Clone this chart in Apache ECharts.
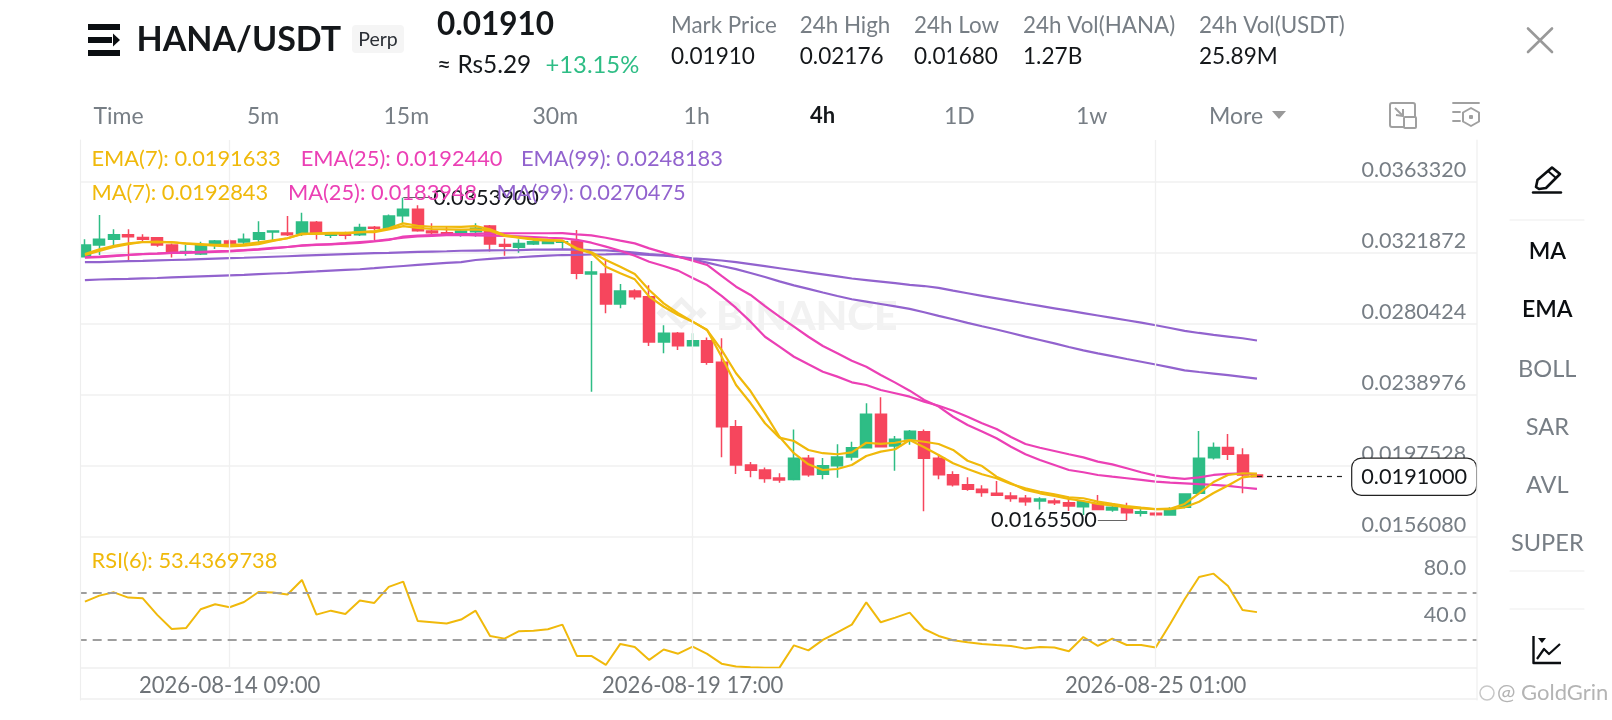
<!DOCTYPE html>
<html><head><meta charset="utf-8">
<style>html,body{margin:0;padding:0;background:#fff}#c{width:1612px;height:720px}</style>
<script src="https://cdn.jsdelivr.net/npm/echarts@6/dist/echarts.min.js"></script>
</head><body><div id="c"></div>
<script>
const opens=[
0.03194,0.03262,0.03296,0.03323,0.03307,0.03305,0.03262,0.03220,0.03210,0.03268,
0.03286,0.03280,0.03296,0.03338,0.03333,0.03331,0.03395,0.03319,0.03331,0.03323,
0.03366,0.03360,0.03434,0.03471,0.03344,0.03334,0.03331,0.03340,0.03373,0.03266,
0.03249,0.03268,0.03272,0.03278,0.03286,0.03093,0.03093,0.02918,0.02994,0.02961,
0.02696,0.02747,0.02675,0.02704,0.02578,0.02202,0.01978,0.01949,0.01902,0.01894,
0.02017,0.01924,0.01974,0.02025,0.02079,0.02274,0.02089,0.02130,0.02173,0.02017,
0.01922,0.01863,0.01836,0.01813,0.01797,0.01784,0.01768,0.01768,0.01758,0.01735,
0.01754,0.01716,0.01731,0.01696,0.01696,0.01686,0.01731,0.01813,0.02021,0.02081,
0.02037,0.01920];
const closes=[
0.03262,0.03296,0.03323,0.03311,0.03296,0.03262,0.03224,0.03224,0.03262,0.03286,
0.03272,0.03296,0.03334,0.03344,0.03323,0.03397,0.03331,0.03331,0.03319,0.03364,
0.03360,0.03432,0.03471,0.03346,0.03334,0.03327,0.03344,0.03360,0.03268,0.03255,
0.03272,0.03282,0.03282,0.03282,0.03097,0.03105,0.02918,0.02994,0.02961,0.02696,
0.02747,0.02675,0.02704,0.02578,0.02202,0.01978,0.01947,0.01900,0.01891,0.02017,
0.01922,0.01974,0.02025,0.02079,0.02274,0.02085,0.02128,0.02175,0.02017,0.01922,
0.01863,0.01836,0.01817,0.01801,0.01782,0.01764,0.01780,0.01758,0.01739,0.01764,
0.01718,0.01731,0.01700,0.01706,0.01688,0.01717,0.01809,0.02017,0.02081,0.02041,
0.01920,0.01910];
const lows=[
0.03194,0.03204,0.03262,0.03175,0.03276,0.03253,0.03189,0.03200,0.03204,0.03239,
0.03257,0.03257,0.03272,0.03282,0.03315,0.03315,0.03294,0.03303,0.03296,0.03315,
0.03292,0.03358,0.03389,0.03340,0.03321,0.03315,0.03311,0.03311,0.03224,0.03200,
0.03218,0.03263,0.03268,0.03237,0.03062,0.02406,0.02864,0.02893,0.02945,0.02673,
0.02630,0.02650,0.02675,0.02564,0.02023,0.01926,0.01906,0.01875,0.01875,0.01887,
0.01910,0.01895,0.01904,0.02004,0.02076,0.02081,0.01945,0.02097,0.01708,0.01895,
0.01852,0.01828,0.01793,0.01797,0.01764,0.01741,0.01719,0.01745,0.01710,0.01686,
0.01714,0.01706,0.01655,0.01677,0.01677,0.01684,0.01725,0.01809,0.02011,0.02007,
0.01813,0.01910];
const highs=[
0.03296,0.03438,0.03354,0.03354,0.03325,0.03305,0.03272,0.03262,0.03282,0.03292,
0.03296,0.03329,0.03401,0.03344,0.03432,0.03451,0.03403,0.03331,0.03340,0.03387,
0.03373,0.03440,0.03539,0.03494,0.03389,0.03370,0.03354,0.03389,0.03379,0.03301,
0.03296,0.03301,0.03296,0.03288,0.03350,0.03169,0.03169,0.03035,0.03004,0.03027,
0.02794,0.02755,0.02747,0.02722,0.02718,0.02241,0.01996,0.01963,0.01930,0.02186,
0.02037,0.02019,0.02099,0.02114,0.02338,0.02373,0.02147,0.02183,0.02186,0.02042,
0.01941,0.01906,0.01860,0.01885,0.01819,0.01803,0.01790,0.01782,0.01784,0.01774,
0.01803,0.01745,0.01758,0.01725,0.01706,0.01731,0.01813,0.02176,0.02109,0.02159,
0.02076,0.01920];
const ema7=[
0.03210,0.03237,0.03258,0.03272,0.03280,0.03282,0.03278,0.03272,0.03268,0.03264,
0.03263,0.03267,0.03278,0.03290,0.03302,0.03325,0.03331,0.03333,0.03334,0.03338,
0.03344,0.03360,0.03389,0.03375,0.03369,0.03369,0.03368,0.03373,0.03354,0.03321,
0.03307,0.03299,0.03293,0.03288,0.03239,0.03214,0.03136,0.03097,0.03062,0.02961,
0.02902,0.02854,0.02815,0.02766,0.02610,0.02445,0.02340,0.02222,0.02138,0.02118,
0.02066,0.02047,0.02041,0.02052,0.02108,0.02101,0.02108,0.02124,0.02114,0.02101,
0.02066,0.02003,0.01972,0.01910,0.01871,0.01832,0.01813,0.01797,0.01780,0.01768,
0.01751,0.01743,0.01731,0.01725,0.01720,0.01720,0.01731,0.01764,0.01815,0.01859,
0.01906,0.01916];
const ma7=[
0.03204,0.03228,0.03251,0.03268,0.03280,0.03278,0.03280,0.03270,0.03264,0.03258,
0.03255,0.03258,0.03268,0.03286,0.03302,0.03329,0.03327,0.03329,0.03329,0.03337,
0.03338,0.03354,0.03373,0.03362,0.03356,0.03354,0.03352,0.03354,0.03346,0.03315,
0.03305,0.03293,0.03288,0.03288,0.03243,0.03220,0.03175,0.03136,0.03093,0.03000,
0.02922,0.02864,0.02815,0.02766,0.02650,0.02514,0.02410,0.02280,0.02143,0.02047,
0.01982,0.01949,0.01955,0.01978,0.02031,0.02056,0.02070,0.02124,0.02082,0.02037,
0.01988,0.01955,0.01924,0.01901,0.01867,0.01842,0.01822,0.01807,0.01790,0.01784,
0.01764,0.01751,0.01739,0.01729,0.01721,0.01723,0.01751,0.01813,0.01879,0.01920,
0.01930,0.01928];
const ema25=[
0.03191,0.03195,0.03201,0.03205,0.03210,0.03213,0.03217,0.03220,0.03223,0.03226,
0.03229,0.03233,0.03239,0.03246,0.03251,0.03258,0.03263,0.03268,0.03273,0.03280,
0.03286,0.03295,0.03305,0.03312,0.03316,0.03320,0.03322,0.03319,0.03317,0.03315,
0.03313,0.03309,0.03305,0.03302,0.03292,0.03276,0.03253,0.03229,0.03200,0.03165,
0.03140,0.03113,0.03070,0.03029,0.02965,0.02895,0.02815,0.02727,0.02669,0.02610,
0.02566,0.02523,0.02494,0.02461,0.02445,0.02416,0.02397,0.02377,0.02348,0.02324,
0.02295,0.02260,0.02222,0.02188,0.02142,0.02101,0.02079,0.02060,0.02041,0.02023,
0.01998,0.01982,0.01959,0.01936,0.01916,0.01904,0.01897,0.01906,0.01920,0.01926,
0.01930,0.01924];
const ma25=[
0.03188,0.03192,0.03198,0.03204,0.03209,0.03212,0.03216,0.03217,0.03219,0.03222,
0.03225,0.03231,0.03236,0.03242,0.03251,0.03260,0.03265,0.03266,0.03271,0.03275,
0.03283,0.03292,0.03312,0.03318,0.03321,0.03324,0.03326,0.03327,0.03330,0.03330,
0.03331,0.03331,0.03331,0.03332,0.03325,0.03319,0.03305,0.03288,0.03272,0.03243,
0.03218,0.03194,0.03171,0.03146,0.03082,0.03019,0.02971,0.02906,0.02844,0.02786,
0.02727,0.02673,0.02630,0.02587,0.02552,0.02504,0.02459,0.02412,0.02358,0.02319,
0.02260,0.02212,0.02174,0.02134,0.02085,0.02041,0.02007,0.01978,0.01949,0.01936,
0.01920,0.01910,0.01901,0.01891,0.01881,0.01875,0.01871,0.01866,0.01862,0.01856,
0.01847,0.01839];
const ema99=[
0.03162,0.03163,0.03166,0.03168,0.03170,0.03173,0.03175,0.03177,0.03180,0.03183,
0.03186,0.03188,0.03191,0.03194,0.03197,0.03200,0.03203,0.03206,0.03209,0.03212,
0.03215,0.03217,0.03220,0.03222,0.03224,0.03226,0.03229,0.03230,0.03231,0.03232,
0.03233,0.03235,0.03236,0.03237,0.03236,0.03233,0.03231,0.03225,0.03218,0.03210,
0.03204,0.03193,0.03179,0.03160,0.03140,0.03122,0.03099,0.03076,0.03050,0.03027,
0.03006,0.02985,0.02965,0.02946,0.02932,0.02918,0.02904,0.02890,0.02870,0.02849,
0.02829,0.02808,0.02788,0.02769,0.02749,0.02728,0.02708,0.02688,0.02667,0.02647,
0.02630,0.02614,0.02597,0.02581,0.02565,0.02548,0.02531,0.02521,0.02512,0.02503,
0.02493,0.02482];
const ma99=[
0.03058,0.03061,0.03063,0.03065,0.03068,0.03070,0.03073,0.03076,0.03079,0.03082,
0.03085,0.03088,0.03092,0.03096,0.03099,0.03104,0.03108,0.03113,0.03117,0.03121,
0.03127,0.03134,0.03140,0.03146,0.03152,0.03158,0.03163,0.03175,0.03181,0.03187,
0.03191,0.03196,0.03200,0.03204,0.03205,0.03207,0.03208,0.03210,0.03209,0.03205,
0.03201,0.03194,0.03185,0.03179,0.03172,0.03163,0.03151,0.03139,0.03127,0.03115,
0.03103,0.03091,0.03079,0.03067,0.03058,0.03049,0.03040,0.03030,0.03023,0.03012,
0.02996,0.02981,0.02966,0.02951,0.02936,0.02921,0.02907,0.02893,0.02879,0.02865,
0.02851,0.02837,0.02823,0.02809,0.02794,0.02778,0.02761,0.02749,0.02738,0.02728,
0.02718,0.02705];
const rsi6=[
62.4,67.5,70.3,65.8,65.2,51.1,39.1,40.0,55.9,60.1,
57.6,62.1,70.6,70.1,68.4,80.8,51.3,54.7,51.9,63.3,
61.3,74.9,79.4,45.9,44.8,43.7,47.1,54.7,33.2,30.9,
37.2,37.7,38.9,42.8,16.2,16.2,8.5,26.4,23.8,12.8,
21.6,18.1,24.1,17.9,9.6,7.1,6.5,6.2,6.2,25.2,
20.9,29.8,36.3,42.8,61.8,44.8,48.8,53.0,39.1,33.2,
29.5,27.8,26.4,25.5,24.7,22.4,23.8,23.3,20.1,32.3,
24.7,30.9,25.5,25.5,23.3,43.4,64.4,83.4,86.2,75.7,
55.3,53.44];
const rsiTicks=[40,80];
const rsiLevels=[70,30];
const dateTickIndex=[10,42,74];
const START=Date.UTC(2026,7,12,17,0);
const categories=[];
for(let i=0;i<97;i++){const d=new Date(START+i*4*3600e3);const p=n=>String(n).padStart(2,'0');
  categories.push(d.getUTCFullYear()+'-'+p(d.getUTCMonth()+1)+'-'+p(d.getUTCDate())+' '+p(d.getUTCHours())+':'+p(d.getUTCMinutes()));}
const lastPrice=closes[closes.length-1];

const FONT='Lato, "Noto Sans", sans-serif';
const GREEN='#2EBD85',RED='#F6465D',GOLD='#F0B90B',PINK='#EB40B5',PURPLE='#9263CE',GRAY='#777E85',GRID='#F0F0F0';
const W=14.47, GL=84.9-W/2, GW=W*97;
const el=[];
function T(text,x,y,size,fill,weight,align,z){el.push({type:'text',z:z||60,silent:true,style:{text:text,x:x,y:y,fill:fill,align:align||'left',verticalAlign:'middle',font:(weight||400)+' '+size+'px '+FONT}});}
function L(x1,y1,x2,y2,c,w,z){el.push({type:'line',z:z||60,silent:true,shape:{x1,y1,x2,y2},style:{stroke:c,lineWidth:w||1,lineCap:'round'}});}
function R(x,y,w,h,c,r,z,stroke,sw){el.push({type:'rect',z:z||60,silent:true,shape:{x,y,width:w,height:h,r:r||0},style:{fill:c,stroke:stroke||null,lineWidth:sw||0}});}
function P(points,c,w,close,fill){el.push({type:close?'polygon':'polyline',z:60,silent:true,shape:{points},style:{stroke:c,lineWidth:w,fill:fill||(close?null:'none'),lineJoin:'round'}});}

// overlays that trim the plot to its frame
R(0,130,80.5,575,'#fff',0,50);
R(1477,130,135,575,'#fff',0,50);
L(80.5,140,80.5,700,'#EEEEEE',1.2);L(1477,140,1477,700,'#EEEEEE',1.2);L(80.5,699,1477,699,'#F0F0F0',1.5);

// header
R(88,24,32,6,'#0B0E11');R(88,50,32,6,'#0B0E11');R(88,37,24,6,'#0B0E11');P([[113,33.5],[120,40],[113,46.5]],null,0,true,'#0B0E11');
T('HANA/USDT',136.5,40,34,'#14171A',700);
R(352,25,52,28,'#F5F5F5',4);T('Perp',378,39.5,19.5,'#2B2F36',400,'center');
T('0.01910',437,25,31.5,'#14171A',700);
T('≈ Rs5.29',437,65,24.4,'#14171A');T('+13.15%',545.5,65,23.8,GREEN);
[['Mark Price','0.01910',671],['24h High','0.02176',799.7],['24h Low','0.01680',914],['24h Vol(HANA)','1.27B',1023],['24h Vol(USDT)','25.89M',1199]].forEach(a=>{T(a[0],a[2],25.5,22.4,GRAY);T(a[1],a[2],57,22.6,'#14171A');});
L(1528,28.5,1552,52,'#999',2.6);L(1552,28.5,1528,52,'#999',2.6);
// tabs
[['Time',93.5],['5m',247],['15m',383.5],['30m',532.5],['1h',683.6],['1D',944],['1w',1076],['More',1209]].forEach(a=>T(a[0],a[1],116.5,23,GRAY));
T('4h',810,116,22,'#14171A',700);
P([[1272,111],[1286,111],[1279,119]],null,0,true,'#999');
// toolbar icons
el.push({type:'rect',z:60,silent:true,shape:{x:1390,y:103,width:25,height:24,r:2},style:{fill:'none',stroke:'#A0A0A0',lineWidth:2}});
R(1404,117,12,11,'#fff',1,60,'#A0A0A0',2);
P([[1395,108],[1403,116]],'#A0A0A0',2);P([[1396,115],[1403,116],[1403,109]],'#A0A0A0',2);
L(1453,103,1479,103,'#A0A0A0',1.8);L(1453,112,1460,112,'#A0A0A0',1.8);L(1453,121,1460,121,'#A0A0A0',1.8);
P([[1471,108],[1479,112.5],[1479,121.5],[1471,126],[1463,121.5],[1463,112.5]],'#A0A0A0',2,true);
R(1469,115,4,4,'#A0A0A0',1);
// side panel
P([[1536,187],[1537.5,180],[1552,167.5],[1560,174],[1546,188],[1539,189]],'#0B0E11',2.6,true);L(1548,171,1556,178,'#0B0E11',2);L(1533,192.5,1561,192.5,'#0B0E11',2.4);
L(1510,220,1584,220,'#EEEEEE',1.2);L(1510,571,1584,571,'#EEEEEE',1.2);L(1510,609,1584,609,'#EEEEEE',1.2);
T('MA',1547.3,251.5,23,'#0B0E11',600,'center');T('EMA',1547.3,310,23,'#0B0E11',600,'center');
[['BOLL',369],['SAR',427.3],['AVL',485.7],['SUPER',543.3]].forEach(a=>T(a[0],1547.3,a[1],23.6,GRAY,400,'center'));
P([[1533.5,636],[1533.5,663],[1561,663]],'#0B0E11',2.4);P([[1537,659],[1544,649],[1549,654],[1560,644]],'#0B0E11',2.2);P([[1538,638],[1546,638],[1542,643]],null,0,true,'#0B0E11');
// readouts
T('EMA(7): 0.0191633',91.5,159,21.8,GOLD);T('EMA(25): 0.0192440',300.7,159,21.8,PINK);T('EMA(99): 0.0248183',521,159,21.8,PURPLE);
T('MA(7): 0.0192843',91.5,192.5,21.8,GOLD);T('MA(25): 0.0183948',288,192.5,21.8,PINK);T('MA(99): 0.0270475',496.5,192.5,21.8,PURPLE);
T('RSI(6): 53.4369738',91.5,560.5,21.8,GOLD);
// watermarks
T('BINANCE',716,317,40.8,'#F2F2F2',900,'left',1);
el.push({type:'rect',z:1,silent:true,x:681.5,y:313,rotation:Math.PI/4,shape:{x:-9,y:-9,width:18,height:18},style:{fill:'#fff',stroke:'#F0F0F0',lineWidth:5}});
el.push({type:'rect',z:1,silent:true,x:662,y:313,rotation:Math.PI/4,shape:{x:-4,y:-4,width:8,height:8},style:{fill:'#F0F0F0'}});
el.push({type:'rect',z:1,silent:true,x:701,y:313,rotation:Math.PI/4,shape:{x:-4,y:-4,width:8,height:8},style:{fill:'#F0F0F0'}});
el.push({type:'circle',z:60,silent:true,shape:{cx:1487,cy:693,r:7},style:{fill:'none',stroke:'#C8C8C8',lineWidth:1.5}});
T('@ GoldGrin',1497,693,22,'#B4B4B4');

function line(name,data,color){return {name,type:'line',data,xAxisIndex:0,yAxisIndex:0,symbol:'none',z:3,silent:true,animation:false,lineStyle:{color,width:2.2},itemStyle:{color}};}

const hiIdx=highs.indexOf(Math.max(...highs)), loIdx=lows.indexOf(Math.min(...lows));
const hi=highs[hiIdx], lo=lows[loIdx];
const lastIdx=closes.length-1;
const extLabel={color:'#14171A',fontSize:21.7,fontFamily:FONT};
const option={
  animation:false,backgroundColor:'#fff',
  grid:[{left:GL,width:GW,top:140,height:396.5},{left:GL,width:GW,top:536.5,height:130.8}],
  xAxis:[
    {type:'category',gridIndex:0,data:categories,axisLine:{show:false},axisTick:{show:false},axisLabel:{show:false},splitLine:{show:false}},
    {type:'category',gridIndex:1,data:categories,axisLine:{show:true,lineStyle:{color:GRID,width:1.5}},axisTick:{show:false},splitLine:{show:false},
      axisLabel:{interval:(i)=>dateTickIndex.includes(i),color:'#6E7378',fontSize:22.1,fontFamily:FONT,margin:8,hideOverlap:false}}
  ],
  yAxis:[
    {type:'value',gridIndex:0,position:'right',min:0.015608,max:0.038755,interval:0.0041448,scale:true,
      axisLine:{show:false},axisTick:{show:false},
      splitLine:{show:true,showMaxLine:false,lineStyle:{color:GRID,width:1.5}},
      axisLabel:{inside:true,margin:15,showMaxLabel:false,showMinLabel:true,color:'#777E85',fontSize:21.5,fontFamily:FONT,verticalAlign:'bottom',lineHeight:22,formatter:v=>v.toFixed(7)}},
    {type:'value',gridIndex:1,position:'right',min:6.5,max:117.8,
      axisLine:{show:false},axisTick:{show:false,customValues:rsiTicks},splitLine:{show:false},
      axisLabel:{inside:true,margin:15,customValues:rsiTicks,color:'#777E85',fontSize:21.5,fontFamily:FONT,verticalAlign:'bottom',lineHeight:26,formatter:v=>v.toFixed(1)}}
  ],
  series:[
    {name:'grid-x',type:'line',xAxisIndex:0,yAxisIndex:0,data:[],z:1,silent:true,
      markLine:{silent:true,symbol:'none',animation:false,label:{show:false},lineStyle:{color:GRID,width:1.3,type:'solid'},data:dateTickIndex.map(i=>({xAxis:i}))}},
    {name:'grid-x2',type:'line',xAxisIndex:1,yAxisIndex:1,data:[],z:1,silent:true,
      markLine:{silent:true,symbol:'none',animation:false,label:{show:false},lineStyle:{color:GRID,width:1.3,type:'solid'},data:dateTickIndex.map(i=>({xAxis:i}))}},
    {name:'HANA/USDT',type:'candlestick',xAxisIndex:0,yAxisIndex:0,z:2,silent:true,barWidth:11.5,
      data:opens.map((o,i)=>[o,closes[i],lows[i],highs[i]]),
      itemStyle:{color:GREEN,color0:RED,borderColor:GREEN,borderColor0:RED,borderWidth:1.5},
      markLine:{silent:true,symbol:['none','none'],animation:false,precision:7,
        data:[
          [{coord:[hiIdx,hi],lineStyle:{color:'#666',width:1,type:'solid'},label:{show:true,position:'end',distance:1,formatter:hi.toFixed(7),...extLabel}},{coord:[hiIdx+2,hi]}],
          [{coord:[loIdx,lo],lineStyle:{color:'#666',width:1,type:'solid'},label:{show:true,position:'end',distance:1,formatter:lo.toFixed(7),...extLabel}},{coord:[loIdx-2,lo]}],
          [{coord:[lastIdx+0.4,lastPrice],lineStyle:{color:'#222',width:1.2,type:[5,5]},label:{show:true,position:'end',distance:8.5,formatter:lastPrice.toFixed(7),...extLabel,backgroundColor:'#fff',borderColor:'#222',borderWidth:1.2,borderRadius:9,padding:[7,9,7,9]}},{coord:[87.3,lastPrice]}]
        ]}},
    line('MA(99)',ma99,PURPLE),line('EMA(99)',ema99,PURPLE),
    line('MA(25)',ma25,PINK),line('EMA(25)',ema25,PINK),
    line('MA(7)',ma7,GOLD),line('EMA(7)',ema7,GOLD),
    {name:'RSI(6)',type:'line',xAxisIndex:1,yAxisIndex:1,data:rsi6,symbol:'none',z:3,silent:true,lineStyle:{color:GOLD,width:2},
      markLine:{silent:true,symbol:'none',animation:false,label:{show:false},lineStyle:{color:'#9E9E9E',width:2,type:[9,6]},data:rsiLevels.map(v=>({yAxis:v}))}}
  ],
  graphic:{elements:el}
};
const chart=echarts.init(document.getElementById('c'));
chart.setOption(option);
</script></body></html>
